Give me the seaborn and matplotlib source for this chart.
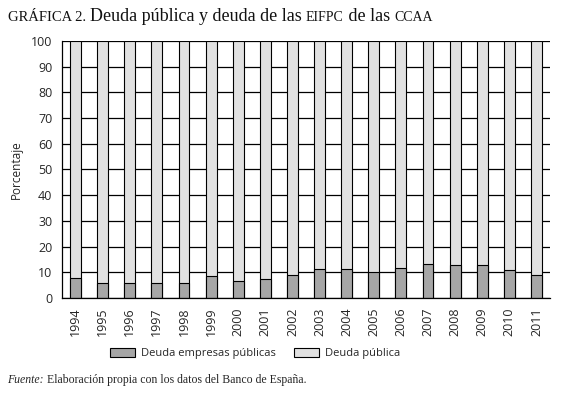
import matplotlib
matplotlib.use("Agg")
import matplotlib.pyplot as plt
import seaborn as sns
import pandas as pd
from matplotlib.patches import Patch

years = ["1994", "1995", "1996", "1997", "1998", "1999", "2000", "2001", "2002",
         "2003", "2004", "2005", "2006", "2007", "2008", "2009", "2010", "2011"]
deuda_empresas = [7.6, 5.7, 5.7, 5.7, 5.7, 8.4, 6.8, 7.2, 8.8,
                  11.2, 11.2, 10.0, 11.6, 13.3, 12.9, 12.9, 10.8, 8.8]
deuda_publica = [100 - v for v in deuda_empresas]
yticks = list(range(0, 101, 10))

df = pd.DataFrame({"year": years, "emp": deuda_empresas, "pub": deuda_publica})
df["total"] = df["emp"] + df["pub"]

sns.set_style("white")
plt.rcParams["font.family"] = ["Open Sans", "DejaVu Sans"]

fig = plt.figure(figsize=(5.65, 3.94), dpi=100)
ax = fig.add_axes([0.1097, 0.2437, 0.8638, 0.6523])

c_light = "#e1e1e1"
c_dark = "#a6a6a6"
sns.barplot(data=df, x="year", y="total", color=c_light, edgecolor="black",
            linewidth=0.8, width=0.4, ax=ax, saturation=1)
sns.barplot(data=df, x="year", y="emp", color=c_dark, edgecolor="black",
            linewidth=0.8, width=0.4, ax=ax, saturation=1)

ax.set_axisbelow(True)
ax.set_ylim(0, 100)
ax.set_xlim(-0.5, len(years) - 0.5)
ax.set_yticks(yticks)
ax.yaxis.grid(True, color="black", linewidth=0.9)
ax.xaxis.grid(False)
for s in ["top", "right"]:
    ax.spines[s].set_visible(False)
ax.spines["left"].set_color("black")
ax.spines["bottom"].set_color("black")
ax.spines["left"].set_linewidth(0.9)
ax.spines["bottom"].set_linewidth(0.9)

ax.set_xticks(range(len(years)))
ax.set_xticklabels(years, rotation=90, fontsize=9)
ax.set_xticks([i - 0.5 for i in range(len(years) + 1)], minor=True)
ax.tick_params(axis="x", which="major", length=0, pad=7)
ax.tick_params(axis="x", which="minor", length=5, width=0.9, color="black", direction="out")
ax.tick_params(axis="y", which="major", length=5, width=0.9, color="black",
               direction="out", labelsize=9, pad=2)
ax.set_xlabel("")
ax.set_ylabel("Porcentaje", fontsize=8.5, labelpad=6)

# Legend
handles = [Patch(facecolor=c_dark, edgecolor="black", linewidth=0.8, label="Deuda empresas públicas"),
           Patch(facecolor=c_light, edgecolor="black", linewidth=0.8, label="Deuda pública")]
fig.legend(handles=handles, loc="center", bbox_to_anchor=(0.452, 0.103), ncol=2,
           frameon=False, fontsize=8, handlelength=2.2, handleheight=0.9,
           columnspacing=1.6, handletextpad=0.6)

# Title composed of pieces (small caps simulated)
serif = ["Liberation Serif", "DejaVu Serif"]
pieces = [("GRÁFICA 2. ", 10.5), ("Deuda pública y deuda de las ", 13), ("EIFPC", 10),
          (" de las ", 13), ("CCAA", 10)]
fig.canvas.draw()
renderer = fig.canvas.get_renderer()
x = 0.014
for txt, size in pieces:
    t = fig.text(x, 0.947, txt, fontsize=size, family=serif, ha="left", va="baseline",
                 color="#111111")
    bb = t.get_window_extent(renderer=renderer)
    x += bb.width / fig.bbox.width

# Source
t1 = fig.text(0.012, 0.027, "Fuente:", fontsize=8.5, family=serif, style="italic",
              ha="left", va="baseline")
bb = t1.get_window_extent(renderer=renderer)
fig.text(0.012 + bb.width / fig.bbox.width + 0.006, 0.027,
         "Elaboración propia con los datos del Banco de España.", fontsize=8.5,
         family=serif, ha="left", va="baseline")

fig.savefig("out.png", dpi=100)
